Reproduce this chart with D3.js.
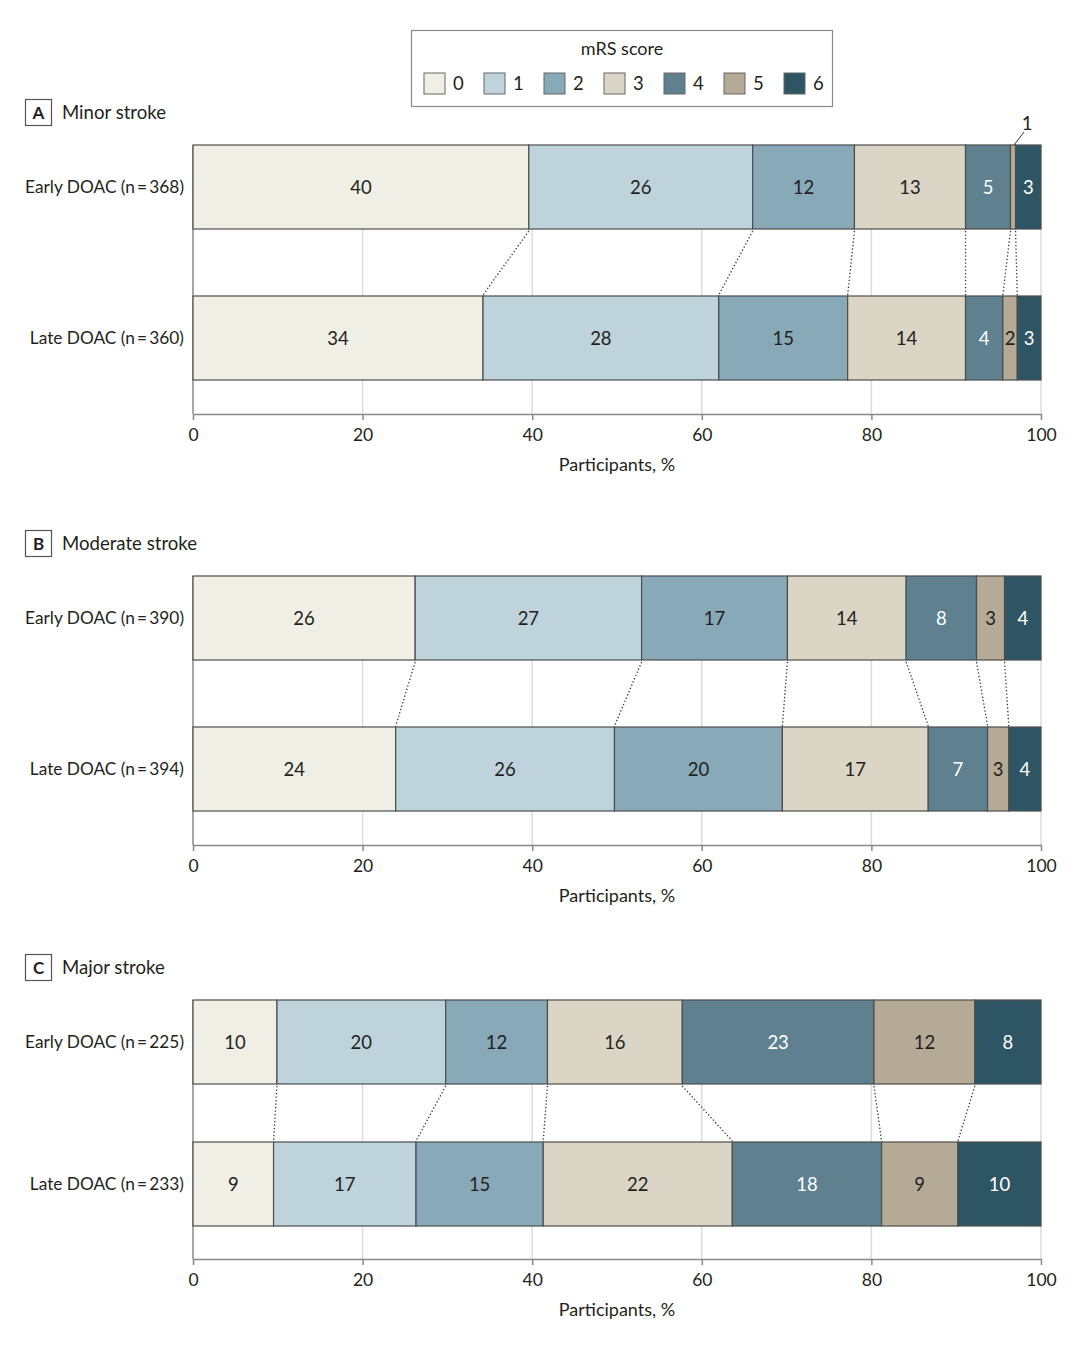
<!DOCTYPE html>
<html>
<head>
<meta charset="utf-8">
<script src="https://cdn.jsdelivr.net/npm/d3@7"></script>
<style>
  body { margin: 0; background: #fff; }
  svg text { font-family: "Lato", "Roboto", sans-serif; fill: #231f20; }
</style>
</head>
<body>
<div id="chart"></div>
<script>
// mRS categories and colours
const scores = ["0", "1", "2", "3", "4", "5", "6"];
const scoreColors = ["#f0efe6", "#bed3dc", "#87a9b8", "#dbd5c5", "#5e808f", "#b5aa96", "#2e5563"];
const darkScores = ["4", "6"];

const panelLetters = ["A", "B", "C"];
const panelTitles = ["Minor stroke", "Moderate stroke", "Major stroke"];
const groupLabels = [
    ["Early DOAC (n\u2009=\u2009368)", "Late DOAC (n\u2009=\u2009360)"],
    ["Early DOAC (n\u2009=\u2009390)", "Late DOAC (n\u2009=\u2009394)"],
    ["Early DOAC (n\u2009=\u2009225)", "Late DOAC (n\u2009=\u2009233)"]
];

// percentages (segment widths)
const minorEarly = [39.6, 26.4, 12.0, 13.1, 5.3, 0.6, 3.0];
const minorLate = [34.2, 27.8, 15.2, 13.9, 4.4, 1.7, 2.8];
const moderateEarly = [26.2, 26.7, 17.2, 14.0, 8.3, 3.3, 4.3];
const moderateLate = [23.9, 25.8, 19.8, 17.2, 7.0, 2.5, 3.8];
const majorEarly = [9.9, 19.9, 12.0, 15.9, 22.6, 11.9, 7.8];
const majorLate = [9.5, 16.8, 15.0, 22.3, 17.6, 9.0, 9.8];

// printed labels
const minorEarlyLabels = [40, 26, 12, 13, 5, 1, 3];
const minorLateLabels = [34, 28, 15, 14, 4, 2, 3];
const moderateEarlyLabels = [26, 27, 17, 14, 8, 3, 4];
const moderateLateLabels = [24, 26, 20, 17, 7, 3, 4];
const majorEarlyLabels = [10, 20, 12, 16, 23, 12, 8];
const majorLateLabels = [9, 17, 15, 22, 18, 9, 10];

const xTicks = [0, 20, 40, 60, 80, 100];

const panelValues = [[minorEarly, minorLate], [moderateEarly, moderateLate], [majorEarly, majorLate]];
const panelLabels = [[minorEarlyLabels, minorLateLabels], [moderateEarlyLabels, moderateLateLabels], [majorEarlyLabels, majorLateLabels]];

// layout
const W = 1080, H = 1350;
const barH = 84;
const panelLayout = [
    {top: 145, gap: 67, axisY: 414, headY: 112},
    {top: 576, gap: 67, axisY: 845, headY: 543},
    {top: 1000, gap: 58, axisY: 1259, headY: 967}
];

const svg = d3.select("#chart").append("svg")
    .attr("width", W)
    .attr("height", H);

const x = d3.scaleLinear().domain([0, 100]).range([193, 1041]);
const color = d3.scaleOrdinal().domain(scores).range(scoreColors);

// Legend
const legend = svg.append("g");
legend.append("rect")
    .attr("x", 411.5).attr("y", 30.5)
    .attr("width", 421).attr("height", 76)
    .attr("fill", "none").attr("stroke", "#8a8a8a").attr("stroke-width", 1.2);
legend.append("text")
    .attr("x", 622).attr("y", 55)
    .attr("text-anchor", "middle")
    .style("font-size", "18px")
    .text("mRS score");
const legItem = legend.selectAll(".leg")
    .data(scores)
    .enter().append("g")
    .attr("class", "leg")
    .attr("transform", (d, i) => `translate(${424 + i * 60},73)`);
legItem.append("rect")
    .attr("width", 21).attr("height", 21)
    .attr("fill", d => color(d))
    .attr("stroke", "#666").attr("stroke-width", 1);
legItem.append("text")
    .attr("x", 29).attr("y", 17)
    .style("font-size", "18.5px")
    .text(d => d);

panelLayout.forEach((lay, p) => {
    const g = svg.append("g");
    const groups = ["Early", "Late"];
    const step = barH + lay.gap;
    const y = d3.scaleBand()
        .domain(groups)
        .range([lay.top, lay.top + step + barH])
        .paddingInner(lay.gap / step)
        .paddingOuter(0);

    // panel heading
    g.append("rect")
        .attr("x", 25.5).attr("y", lay.headY - 12.5)
        .attr("width", 26).attr("height", 26)
        .attr("fill", "#fff").attr("stroke", "#555").attr("stroke-width", 1.2);
    g.append("text")
        .attr("x", 38.5).attr("y", lay.headY + 6.5)
        .attr("text-anchor", "middle")
        .style("font-size", "17px").style("font-weight", "bold")
        .text(panelLetters[p]);
    g.append("text")
        .attr("x", 62).attr("y", lay.headY + 7)
        .style("font-size", "18.6px")
        .text(panelTitles[p]);

    // gridlines
    g.selectAll(".grid")
        .data(xTicks.slice(1))
        .enter().append("line")
        .attr("x1", d => x(d)).attr("x2", d => x(d))
        .attr("y1", lay.top).attr("y2", lay.axisY)
        .attr("stroke", "#dcdcdc").attr("stroke-width", 1.5);

    // left border
    g.append("line")
        .attr("x1", x(0)).attr("x2", x(0))
        .attr("y1", lay.top).attr("y2", lay.axisY)
        .attr("stroke", "#888").attr("stroke-width", 1.5);

    // axis
    const axis = g.append("g")
        .attr("transform", `translate(0,${lay.axisY})`)
        .call(d3.axisBottom(x).tickValues(xTicks).tickSize(6).tickSizeOuter(0).tickPadding(9));
    axis.select(".domain").attr("stroke", "#888").attr("stroke-width", 1.5);
    axis.selectAll(".tick line").attr("stroke", "#888").attr("stroke-width", 1.5);
    axis.selectAll(".tick text")
        .style("font-size", "17.5px")
        .style("font-family", "Lato, Roboto, sans-serif")
        .attr("fill", "#231f20");
    g.append("text")
        .attr("x", 617).attr("y", lay.axisY + 57)
        .attr("text-anchor", "middle")
        .style("font-size", "18px")
        .text("Participants, %");

    // stacked segments
    const rows = groups.map((grp, r) => {
        const vals = panelValues[p][r];
        let cum = 0;
        return vals.map((v, i) => {
            const seg = {grp, score: scores[i], x0: cum, x1: cum + v, label: panelLabels[p][r][i]};
            cum += v;
            return seg;
        });
    });

    // dotted connectors between cumulative boundaries
    const bounds = d3.range(1, scores.length).map(i => [rows[0][i].x0, rows[1][i].x0]);
    g.selectAll(".conn")
        .data(bounds)
        .enter().append("line")
        .attr("x1", d => x(d[0])).attr("y1", y("Early") + barH + 2)
        .attr("x2", d => x(d[1])).attr("y2", y("Late") - 1)
        .attr("stroke", "#333").attr("stroke-width", 1.3)
        .attr("stroke-dasharray", "1.3,2.2");

    rows.forEach((row, r) => {
        const rg = g.append("g");
        rg.selectAll("rect")
            .data(row)
            .enter().append("rect")
            .attr("x", d => x(d.x0))
            .attr("y", y(groups[r]))
            .attr("width", d => x(d.x1) - x(d.x0))
            .attr("height", y.bandwidth())
            .attr("fill", d => color(d.score))
            .attr("stroke", "#4d4d4d").attr("stroke-width", 1.2);

        rg.selectAll("text.val")
            .data(row)
            .enter().append("text")
            .attr("class", "val")
            .attr("x", d => {
                const w = x(d.x1) - x(d.x0);
                return w < 10 ? x(d.x0) + w / 2 + 14 : (x(d.x0) + x(d.x1)) / 2;
            })
            .attr("y", d => (x(d.x1) - x(d.x0)) < 10 ? y(groups[r]) - 15 : y(groups[r]) + barH / 2 + 6.5)
            .attr("text-anchor", "middle")
            .style("font-size", "18.5px")
            .style("fill", d => (x(d.x1) - x(d.x0)) >= 10 && darkScores.includes(d.score) ? "#fff" : "#231f20")
            .text(d => d.label);

        // leader for tiny segments
        rg.selectAll("line.lead")
            .data(row.filter(d => x(d.x1) - x(d.x0) < 10))
            .enter().append("line")
            .attr("x1", d => (x(d.x0) + x(d.x1)) / 2 + 1).attr("y1", y(groups[r]))
            .attr("x2", d => (x(d.x0) + x(d.x1)) / 2 + 11).attr("y2", y(groups[r]) - 13)
            .attr("stroke", "#333").attr("stroke-width", 1);

        g.append("text")
            .attr("x", 184).attr("y", y(groups[r]) + barH / 2 + 6)
            .attr("text-anchor", "end")
            .style("font-size", "17.3px")
            .text(groupLabels[p][r]);
    });
});
</script>
</body>
</html>
